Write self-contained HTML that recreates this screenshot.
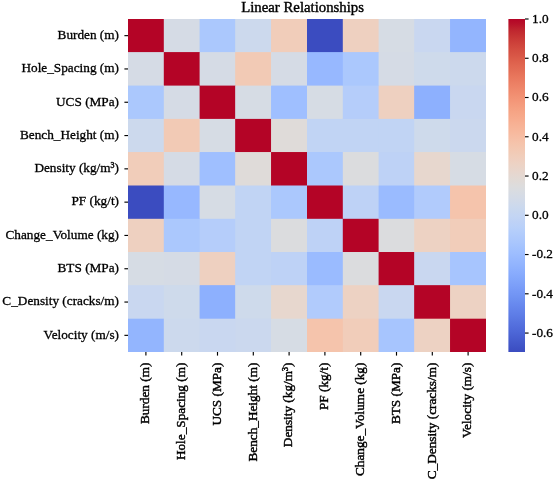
<!DOCTYPE html>
<html><head><meta charset="utf-8"><title>Linear Relationships</title>
<style>html,body{margin:0;padding:0;background:#fff}svg{display:block}text{font-family:"Liberation Serif","Times New Roman",serif;fill:#000;stroke:#000;stroke-width:0.3px}</style></head><body>
<svg width="554" height="480" viewBox="0 0 554 480">
<rect width="554" height="480" fill="#fff"/>
<defs><linearGradient id="cb" x1="0" y1="0" x2="0" y2="1">
<stop offset="0.0000" stop-color="#b40426"/>
<stop offset="0.0156" stop-color="#b8122a"/>
<stop offset="0.0312" stop-color="#be242e"/>
<stop offset="0.0469" stop-color="#c43032"/>
<stop offset="0.0625" stop-color="#ca3b37"/>
<stop offset="0.0781" stop-color="#cf453c"/>
<stop offset="0.0938" stop-color="#d44e41"/>
<stop offset="0.1094" stop-color="#d85646"/>
<stop offset="0.1250" stop-color="#dd5f4b"/>
<stop offset="0.1406" stop-color="#e16751"/>
<stop offset="0.1562" stop-color="#e46e56"/>
<stop offset="0.1719" stop-color="#e8765c"/>
<stop offset="0.1875" stop-color="#eb7d62"/>
<stop offset="0.2031" stop-color="#ee8468"/>
<stop offset="0.2188" stop-color="#f08b6e"/>
<stop offset="0.2344" stop-color="#f29274"/>
<stop offset="0.2500" stop-color="#f4987a"/>
<stop offset="0.2656" stop-color="#f59f80"/>
<stop offset="0.2812" stop-color="#f6a586"/>
<stop offset="0.2969" stop-color="#f7aa8c"/>
<stop offset="0.3125" stop-color="#f7b093"/>
<stop offset="0.3281" stop-color="#f7b599"/>
<stop offset="0.3438" stop-color="#f7ba9f"/>
<stop offset="0.3594" stop-color="#f6bfa6"/>
<stop offset="0.3750" stop-color="#f5c4ac"/>
<stop offset="0.3906" stop-color="#f3c8b2"/>
<stop offset="0.4062" stop-color="#f1ccb8"/>
<stop offset="0.4219" stop-color="#efcfbf"/>
<stop offset="0.4375" stop-color="#ecd3c5"/>
<stop offset="0.4531" stop-color="#e9d5cb"/>
<stop offset="0.4688" stop-color="#e5d8d1"/>
<stop offset="0.4844" stop-color="#e1dad6"/>
<stop offset="0.5000" stop-color="#dddcdc"/>
<stop offset="0.5156" stop-color="#d9dce1"/>
<stop offset="0.5312" stop-color="#d5dbe5"/>
<stop offset="0.5469" stop-color="#d1dae9"/>
<stop offset="0.5625" stop-color="#ccd9ed"/>
<stop offset="0.5781" stop-color="#c7d7f0"/>
<stop offset="0.5938" stop-color="#c3d5f4"/>
<stop offset="0.6094" stop-color="#bed2f6"/>
<stop offset="0.6250" stop-color="#b9d0f9"/>
<stop offset="0.6406" stop-color="#b3cdfb"/>
<stop offset="0.6562" stop-color="#aec9fc"/>
<stop offset="0.6719" stop-color="#a9c6fd"/>
<stop offset="0.6875" stop-color="#a3c2fe"/>
<stop offset="0.7031" stop-color="#9ebeff"/>
<stop offset="0.7188" stop-color="#98b9ff"/>
<stop offset="0.7344" stop-color="#93b5fe"/>
<stop offset="0.7500" stop-color="#8db0fe"/>
<stop offset="0.7656" stop-color="#88abfd"/>
<stop offset="0.7812" stop-color="#82a6fb"/>
<stop offset="0.7969" stop-color="#7da0f9"/>
<stop offset="0.8125" stop-color="#779af7"/>
<stop offset="0.8281" stop-color="#7295f4"/>
<stop offset="0.8438" stop-color="#6c8ff1"/>
<stop offset="0.8594" stop-color="#6788ee"/>
<stop offset="0.8750" stop-color="#6282ea"/>
<stop offset="0.8906" stop-color="#5d7ce6"/>
<stop offset="0.9062" stop-color="#5875e1"/>
<stop offset="0.9219" stop-color="#536edd"/>
<stop offset="0.9375" stop-color="#4e68d8"/>
<stop offset="0.9531" stop-color="#4961d2"/>
<stop offset="0.9688" stop-color="#445acc"/>
<stop offset="0.9844" stop-color="#3f53c6"/>
<stop offset="1.0000" stop-color="#3b4cc0"/>
</linearGradient></defs>
<g shape-rendering="crispEdges">
<rect x="128.00" y="19.00" width="35.80" height="33.30" fill="#b40426"/>
<rect x="163.80" y="19.00" width="35.80" height="33.30" fill="#d5dbe5"/>
<rect x="199.60" y="19.00" width="35.80" height="33.30" fill="#abc8fd"/>
<rect x="235.40" y="19.00" width="35.80" height="33.30" fill="#ccd9ed"/>
<rect x="271.20" y="19.00" width="35.80" height="33.30" fill="#f1cdba"/>
<rect x="307.00" y="19.00" width="35.80" height="33.30" fill="#3b4cc0"/>
<rect x="342.80" y="19.00" width="35.80" height="33.30" fill="#eed0c0"/>
<rect x="378.60" y="19.00" width="35.80" height="33.30" fill="#d6dce4"/>
<rect x="414.40" y="19.00" width="35.80" height="33.30" fill="#c9d7f0"/>
<rect x="450.20" y="19.00" width="35.80" height="33.30" fill="#93b5fe"/>
<rect x="128.00" y="52.30" width="35.80" height="33.30" fill="#d5dbe5"/>
<rect x="163.80" y="52.30" width="35.80" height="33.30" fill="#b40426"/>
<rect x="199.60" y="52.30" width="35.80" height="33.30" fill="#d5dbe5"/>
<rect x="235.40" y="52.30" width="35.80" height="33.30" fill="#f2cab5"/>
<rect x="271.20" y="52.30" width="35.80" height="33.30" fill="#d5dbe5"/>
<rect x="307.00" y="52.30" width="35.80" height="33.30" fill="#97b8ff"/>
<rect x="342.80" y="52.30" width="35.80" height="33.30" fill="#abc8fd"/>
<rect x="378.60" y="52.30" width="35.80" height="33.30" fill="#d5dbe5"/>
<rect x="414.40" y="52.30" width="35.80" height="33.30" fill="#cedaeb"/>
<rect x="450.20" y="52.30" width="35.80" height="33.30" fill="#ccd9ed"/>
<rect x="128.00" y="85.60" width="35.80" height="33.30" fill="#abc8fd"/>
<rect x="163.80" y="85.60" width="35.80" height="33.30" fill="#d5dbe5"/>
<rect x="199.60" y="85.60" width="35.80" height="33.30" fill="#b40426"/>
<rect x="235.40" y="85.60" width="35.80" height="33.30" fill="#d6dce4"/>
<rect x="271.20" y="85.60" width="35.80" height="33.30" fill="#9fbfff"/>
<rect x="307.00" y="85.60" width="35.80" height="33.30" fill="#d6dce4"/>
<rect x="342.80" y="85.60" width="35.80" height="33.30" fill="#b5cdfa"/>
<rect x="378.60" y="85.60" width="35.80" height="33.30" fill="#eed0c0"/>
<rect x="414.40" y="85.60" width="35.80" height="33.30" fill="#8db0fe"/>
<rect x="450.20" y="85.60" width="35.80" height="33.30" fill="#c9d7f0"/>
<rect x="128.00" y="118.90" width="35.80" height="33.30" fill="#ccd9ed"/>
<rect x="163.80" y="118.90" width="35.80" height="33.30" fill="#f2cab5"/>
<rect x="199.60" y="118.90" width="35.80" height="33.30" fill="#d6dce4"/>
<rect x="235.40" y="118.90" width="35.80" height="33.30" fill="#b40426"/>
<rect x="271.20" y="118.90" width="35.80" height="33.30" fill="#dfdbd9"/>
<rect x="307.00" y="118.90" width="35.80" height="33.30" fill="#c1d4f4"/>
<rect x="342.80" y="118.90" width="35.80" height="33.30" fill="#c1d4f4"/>
<rect x="378.60" y="118.90" width="35.80" height="33.30" fill="#c1d4f4"/>
<rect x="414.40" y="118.90" width="35.80" height="33.30" fill="#cedaeb"/>
<rect x="450.20" y="118.90" width="35.80" height="33.30" fill="#cbd8ee"/>
<rect x="128.00" y="152.20" width="35.80" height="33.30" fill="#f1cdba"/>
<rect x="163.80" y="152.20" width="35.80" height="33.30" fill="#d5dbe5"/>
<rect x="199.60" y="152.20" width="35.80" height="33.30" fill="#9fbfff"/>
<rect x="235.40" y="152.20" width="35.80" height="33.30" fill="#dfdbd9"/>
<rect x="271.20" y="152.20" width="35.80" height="33.30" fill="#b40426"/>
<rect x="307.00" y="152.20" width="35.80" height="33.30" fill="#abc8fd"/>
<rect x="342.80" y="152.20" width="35.80" height="33.30" fill="#dbdcde"/>
<rect x="378.60" y="152.20" width="35.80" height="33.30" fill="#bed2f6"/>
<rect x="414.40" y="152.20" width="35.80" height="33.30" fill="#e7d7ce"/>
<rect x="450.20" y="152.20" width="35.80" height="33.30" fill="#d6dce4"/>
<rect x="128.00" y="185.50" width="35.80" height="33.30" fill="#3b4cc0"/>
<rect x="163.80" y="185.50" width="35.80" height="33.30" fill="#97b8ff"/>
<rect x="199.60" y="185.50" width="35.80" height="33.30" fill="#d6dce4"/>
<rect x="235.40" y="185.50" width="35.80" height="33.30" fill="#c1d4f4"/>
<rect x="271.20" y="185.50" width="35.80" height="33.30" fill="#abc8fd"/>
<rect x="307.00" y="185.50" width="35.80" height="33.30" fill="#b40426"/>
<rect x="342.80" y="185.50" width="35.80" height="33.30" fill="#bed2f6"/>
<rect x="378.60" y="185.50" width="35.80" height="33.30" fill="#9abbff"/>
<rect x="414.40" y="185.50" width="35.80" height="33.30" fill="#b1cbfc"/>
<rect x="450.20" y="185.50" width="35.80" height="33.30" fill="#f5c4ac"/>
<rect x="128.00" y="218.80" width="35.80" height="33.30" fill="#eed0c0"/>
<rect x="163.80" y="218.80" width="35.80" height="33.30" fill="#abc8fd"/>
<rect x="199.60" y="218.80" width="35.80" height="33.30" fill="#b5cdfa"/>
<rect x="235.40" y="218.80" width="35.80" height="33.30" fill="#c1d4f4"/>
<rect x="271.20" y="218.80" width="35.80" height="33.30" fill="#dbdcde"/>
<rect x="307.00" y="218.80" width="35.80" height="33.30" fill="#bed2f6"/>
<rect x="342.80" y="218.80" width="35.80" height="33.30" fill="#b40426"/>
<rect x="378.60" y="218.80" width="35.80" height="33.30" fill="#dbdcde"/>
<rect x="414.40" y="218.80" width="35.80" height="33.30" fill="#edd2c3"/>
<rect x="450.20" y="218.80" width="35.80" height="33.30" fill="#f1cdba"/>
<rect x="128.00" y="252.10" width="35.80" height="33.30" fill="#d6dce4"/>
<rect x="163.80" y="252.10" width="35.80" height="33.30" fill="#d5dbe5"/>
<rect x="199.60" y="252.10" width="35.80" height="33.30" fill="#eed0c0"/>
<rect x="235.40" y="252.10" width="35.80" height="33.30" fill="#c1d4f4"/>
<rect x="271.20" y="252.10" width="35.80" height="33.30" fill="#bed2f6"/>
<rect x="307.00" y="252.10" width="35.80" height="33.30" fill="#9abbff"/>
<rect x="342.80" y="252.10" width="35.80" height="33.30" fill="#dbdcde"/>
<rect x="378.60" y="252.10" width="35.80" height="33.30" fill="#b40426"/>
<rect x="414.40" y="252.10" width="35.80" height="33.30" fill="#c9d7f0"/>
<rect x="450.20" y="252.10" width="35.80" height="33.30" fill="#a7c5fe"/>
<rect x="128.00" y="285.40" width="35.80" height="33.30" fill="#c9d7f0"/>
<rect x="163.80" y="285.40" width="35.80" height="33.30" fill="#cedaeb"/>
<rect x="199.60" y="285.40" width="35.80" height="33.30" fill="#8db0fe"/>
<rect x="235.40" y="285.40" width="35.80" height="33.30" fill="#cedaeb"/>
<rect x="271.20" y="285.40" width="35.80" height="33.30" fill="#e7d7ce"/>
<rect x="307.00" y="285.40" width="35.80" height="33.30" fill="#b1cbfc"/>
<rect x="342.80" y="285.40" width="35.80" height="33.30" fill="#edd2c3"/>
<rect x="378.60" y="285.40" width="35.80" height="33.30" fill="#c9d7f0"/>
<rect x="414.40" y="285.40" width="35.80" height="33.30" fill="#b40426"/>
<rect x="450.20" y="285.40" width="35.80" height="33.30" fill="#edd2c3"/>
<rect x="128.00" y="318.70" width="35.80" height="33.30" fill="#93b5fe"/>
<rect x="163.80" y="318.70" width="35.80" height="33.30" fill="#ccd9ed"/>
<rect x="199.60" y="318.70" width="35.80" height="33.30" fill="#c9d7f0"/>
<rect x="235.40" y="318.70" width="35.80" height="33.30" fill="#cbd8ee"/>
<rect x="271.20" y="318.70" width="35.80" height="33.30" fill="#d6dce4"/>
<rect x="307.00" y="318.70" width="35.80" height="33.30" fill="#f5c4ac"/>
<rect x="342.80" y="318.70" width="35.80" height="33.30" fill="#f1cdba"/>
<rect x="378.60" y="318.70" width="35.80" height="33.30" fill="#a7c5fe"/>
<rect x="414.40" y="318.70" width="35.80" height="33.30" fill="#edd2c3"/>
<rect x="450.20" y="318.70" width="35.80" height="33.30" fill="#b40426"/>
</g>
<g>
<rect x="128.00" y="19.00" width="35.80" height="33.30" fill="#b40426"/>
<rect x="163.80" y="19.00" width="35.80" height="33.30" fill="#d5dbe5"/>
<rect x="199.60" y="19.00" width="35.80" height="33.30" fill="#abc8fd"/>
<rect x="235.40" y="19.00" width="35.80" height="33.30" fill="#ccd9ed"/>
<rect x="271.20" y="19.00" width="35.80" height="33.30" fill="#f1cdba"/>
<rect x="307.00" y="19.00" width="35.80" height="33.30" fill="#3b4cc0"/>
<rect x="342.80" y="19.00" width="35.80" height="33.30" fill="#eed0c0"/>
<rect x="378.60" y="19.00" width="35.80" height="33.30" fill="#d6dce4"/>
<rect x="414.40" y="19.00" width="35.80" height="33.30" fill="#c9d7f0"/>
<rect x="450.20" y="19.00" width="35.80" height="33.30" fill="#93b5fe"/>
<rect x="128.00" y="52.30" width="35.80" height="33.30" fill="#d5dbe5"/>
<rect x="163.80" y="52.30" width="35.80" height="33.30" fill="#b40426"/>
<rect x="199.60" y="52.30" width="35.80" height="33.30" fill="#d5dbe5"/>
<rect x="235.40" y="52.30" width="35.80" height="33.30" fill="#f2cab5"/>
<rect x="271.20" y="52.30" width="35.80" height="33.30" fill="#d5dbe5"/>
<rect x="307.00" y="52.30" width="35.80" height="33.30" fill="#97b8ff"/>
<rect x="342.80" y="52.30" width="35.80" height="33.30" fill="#abc8fd"/>
<rect x="378.60" y="52.30" width="35.80" height="33.30" fill="#d5dbe5"/>
<rect x="414.40" y="52.30" width="35.80" height="33.30" fill="#cedaeb"/>
<rect x="450.20" y="52.30" width="35.80" height="33.30" fill="#ccd9ed"/>
<rect x="128.00" y="85.60" width="35.80" height="33.30" fill="#abc8fd"/>
<rect x="163.80" y="85.60" width="35.80" height="33.30" fill="#d5dbe5"/>
<rect x="199.60" y="85.60" width="35.80" height="33.30" fill="#b40426"/>
<rect x="235.40" y="85.60" width="35.80" height="33.30" fill="#d6dce4"/>
<rect x="271.20" y="85.60" width="35.80" height="33.30" fill="#9fbfff"/>
<rect x="307.00" y="85.60" width="35.80" height="33.30" fill="#d6dce4"/>
<rect x="342.80" y="85.60" width="35.80" height="33.30" fill="#b5cdfa"/>
<rect x="378.60" y="85.60" width="35.80" height="33.30" fill="#eed0c0"/>
<rect x="414.40" y="85.60" width="35.80" height="33.30" fill="#8db0fe"/>
<rect x="450.20" y="85.60" width="35.80" height="33.30" fill="#c9d7f0"/>
<rect x="128.00" y="118.90" width="35.80" height="33.30" fill="#ccd9ed"/>
<rect x="163.80" y="118.90" width="35.80" height="33.30" fill="#f2cab5"/>
<rect x="199.60" y="118.90" width="35.80" height="33.30" fill="#d6dce4"/>
<rect x="235.40" y="118.90" width="35.80" height="33.30" fill="#b40426"/>
<rect x="271.20" y="118.90" width="35.80" height="33.30" fill="#dfdbd9"/>
<rect x="307.00" y="118.90" width="35.80" height="33.30" fill="#c1d4f4"/>
<rect x="342.80" y="118.90" width="35.80" height="33.30" fill="#c1d4f4"/>
<rect x="378.60" y="118.90" width="35.80" height="33.30" fill="#c1d4f4"/>
<rect x="414.40" y="118.90" width="35.80" height="33.30" fill="#cedaeb"/>
<rect x="450.20" y="118.90" width="35.80" height="33.30" fill="#cbd8ee"/>
<rect x="128.00" y="152.20" width="35.80" height="33.30" fill="#f1cdba"/>
<rect x="163.80" y="152.20" width="35.80" height="33.30" fill="#d5dbe5"/>
<rect x="199.60" y="152.20" width="35.80" height="33.30" fill="#9fbfff"/>
<rect x="235.40" y="152.20" width="35.80" height="33.30" fill="#dfdbd9"/>
<rect x="271.20" y="152.20" width="35.80" height="33.30" fill="#b40426"/>
<rect x="307.00" y="152.20" width="35.80" height="33.30" fill="#abc8fd"/>
<rect x="342.80" y="152.20" width="35.80" height="33.30" fill="#dbdcde"/>
<rect x="378.60" y="152.20" width="35.80" height="33.30" fill="#bed2f6"/>
<rect x="414.40" y="152.20" width="35.80" height="33.30" fill="#e7d7ce"/>
<rect x="450.20" y="152.20" width="35.80" height="33.30" fill="#d6dce4"/>
<rect x="128.00" y="185.50" width="35.80" height="33.30" fill="#3b4cc0"/>
<rect x="163.80" y="185.50" width="35.80" height="33.30" fill="#97b8ff"/>
<rect x="199.60" y="185.50" width="35.80" height="33.30" fill="#d6dce4"/>
<rect x="235.40" y="185.50" width="35.80" height="33.30" fill="#c1d4f4"/>
<rect x="271.20" y="185.50" width="35.80" height="33.30" fill="#abc8fd"/>
<rect x="307.00" y="185.50" width="35.80" height="33.30" fill="#b40426"/>
<rect x="342.80" y="185.50" width="35.80" height="33.30" fill="#bed2f6"/>
<rect x="378.60" y="185.50" width="35.80" height="33.30" fill="#9abbff"/>
<rect x="414.40" y="185.50" width="35.80" height="33.30" fill="#b1cbfc"/>
<rect x="450.20" y="185.50" width="35.80" height="33.30" fill="#f5c4ac"/>
<rect x="128.00" y="218.80" width="35.80" height="33.30" fill="#eed0c0"/>
<rect x="163.80" y="218.80" width="35.80" height="33.30" fill="#abc8fd"/>
<rect x="199.60" y="218.80" width="35.80" height="33.30" fill="#b5cdfa"/>
<rect x="235.40" y="218.80" width="35.80" height="33.30" fill="#c1d4f4"/>
<rect x="271.20" y="218.80" width="35.80" height="33.30" fill="#dbdcde"/>
<rect x="307.00" y="218.80" width="35.80" height="33.30" fill="#bed2f6"/>
<rect x="342.80" y="218.80" width="35.80" height="33.30" fill="#b40426"/>
<rect x="378.60" y="218.80" width="35.80" height="33.30" fill="#dbdcde"/>
<rect x="414.40" y="218.80" width="35.80" height="33.30" fill="#edd2c3"/>
<rect x="450.20" y="218.80" width="35.80" height="33.30" fill="#f1cdba"/>
<rect x="128.00" y="252.10" width="35.80" height="33.30" fill="#d6dce4"/>
<rect x="163.80" y="252.10" width="35.80" height="33.30" fill="#d5dbe5"/>
<rect x="199.60" y="252.10" width="35.80" height="33.30" fill="#eed0c0"/>
<rect x="235.40" y="252.10" width="35.80" height="33.30" fill="#c1d4f4"/>
<rect x="271.20" y="252.10" width="35.80" height="33.30" fill="#bed2f6"/>
<rect x="307.00" y="252.10" width="35.80" height="33.30" fill="#9abbff"/>
<rect x="342.80" y="252.10" width="35.80" height="33.30" fill="#dbdcde"/>
<rect x="378.60" y="252.10" width="35.80" height="33.30" fill="#b40426"/>
<rect x="414.40" y="252.10" width="35.80" height="33.30" fill="#c9d7f0"/>
<rect x="450.20" y="252.10" width="35.80" height="33.30" fill="#a7c5fe"/>
<rect x="128.00" y="285.40" width="35.80" height="33.30" fill="#c9d7f0"/>
<rect x="163.80" y="285.40" width="35.80" height="33.30" fill="#cedaeb"/>
<rect x="199.60" y="285.40" width="35.80" height="33.30" fill="#8db0fe"/>
<rect x="235.40" y="285.40" width="35.80" height="33.30" fill="#cedaeb"/>
<rect x="271.20" y="285.40" width="35.80" height="33.30" fill="#e7d7ce"/>
<rect x="307.00" y="285.40" width="35.80" height="33.30" fill="#b1cbfc"/>
<rect x="342.80" y="285.40" width="35.80" height="33.30" fill="#edd2c3"/>
<rect x="378.60" y="285.40" width="35.80" height="33.30" fill="#c9d7f0"/>
<rect x="414.40" y="285.40" width="35.80" height="33.30" fill="#b40426"/>
<rect x="450.20" y="285.40" width="35.80" height="33.30" fill="#edd2c3"/>
<rect x="128.00" y="318.70" width="35.80" height="33.30" fill="#93b5fe"/>
<rect x="163.80" y="318.70" width="35.80" height="33.30" fill="#ccd9ed"/>
<rect x="199.60" y="318.70" width="35.80" height="33.30" fill="#c9d7f0"/>
<rect x="235.40" y="318.70" width="35.80" height="33.30" fill="#cbd8ee"/>
<rect x="271.20" y="318.70" width="35.80" height="33.30" fill="#d6dce4"/>
<rect x="307.00" y="318.70" width="35.80" height="33.30" fill="#f5c4ac"/>
<rect x="342.80" y="318.70" width="35.80" height="33.30" fill="#f1cdba"/>
<rect x="378.60" y="318.70" width="35.80" height="33.30" fill="#a7c5fe"/>
<rect x="414.40" y="318.70" width="35.80" height="33.30" fill="#edd2c3"/>
<rect x="450.20" y="318.70" width="35.80" height="33.30" fill="#b40426"/>
</g>
<rect x="508.40" y="19.00" width="16.60" height="333.00" fill="url(#cb)"/>
<g stroke="#000" stroke-width="1.15">
<line x1="124.40" y1="35.65" x2="128.00" y2="35.65"/>
<line x1="124.40" y1="68.95" x2="128.00" y2="68.95"/>
<line x1="124.40" y1="102.25" x2="128.00" y2="102.25"/>
<line x1="124.40" y1="135.55" x2="128.00" y2="135.55"/>
<line x1="124.40" y1="168.85" x2="128.00" y2="168.85"/>
<line x1="124.40" y1="202.15" x2="128.00" y2="202.15"/>
<line x1="124.40" y1="235.45" x2="128.00" y2="235.45"/>
<line x1="124.40" y1="268.75" x2="128.00" y2="268.75"/>
<line x1="124.40" y1="302.05" x2="128.00" y2="302.05"/>
<line x1="124.40" y1="335.35" x2="128.00" y2="335.35"/>
<line x1="145.90" y1="352.00" x2="145.90" y2="355.60"/>
<line x1="181.70" y1="352.00" x2="181.70" y2="355.60"/>
<line x1="217.50" y1="352.00" x2="217.50" y2="355.60"/>
<line x1="253.30" y1="352.00" x2="253.30" y2="355.60"/>
<line x1="289.10" y1="352.00" x2="289.10" y2="355.60"/>
<line x1="324.90" y1="352.00" x2="324.90" y2="355.60"/>
<line x1="360.70" y1="352.00" x2="360.70" y2="355.60"/>
<line x1="396.50" y1="352.00" x2="396.50" y2="355.60"/>
<line x1="432.30" y1="352.00" x2="432.30" y2="355.60"/>
<line x1="468.10" y1="352.00" x2="468.10" y2="355.60"/>
<line x1="525.00" y1="19.00" x2="528.60" y2="19.00"/>
<line x1="525.00" y1="58.26" x2="528.60" y2="58.26"/>
<line x1="525.00" y1="97.51" x2="528.60" y2="97.51"/>
<line x1="525.00" y1="136.77" x2="528.60" y2="136.77"/>
<line x1="525.00" y1="176.03" x2="528.60" y2="176.03"/>
<line x1="525.00" y1="215.29" x2="528.60" y2="215.29"/>
<line x1="525.00" y1="254.54" x2="528.60" y2="254.54"/>
<line x1="525.00" y1="293.80" x2="528.60" y2="293.80"/>
<line x1="525.00" y1="333.06" x2="528.60" y2="333.06"/>
</g>
<text x="119.00" y="38.95" font-size="13.25" text-anchor="end">Burden (m)</text>
<text x="119.00" y="72.25" font-size="13.25" text-anchor="end">Hole_Spacing (m)</text>
<text x="119.00" y="105.55" font-size="13.25" text-anchor="end">UCS (MPa)</text>
<text x="119.00" y="138.85" font-size="13.25" text-anchor="end">Bench_Height (m)</text>
<text x="119.00" y="172.15" font-size="13.25" text-anchor="end">Density (kg/m³)</text>
<text x="119.00" y="205.45" font-size="13.25" text-anchor="end">PF (kg/t)</text>
<text x="119.00" y="238.75" font-size="13.25" text-anchor="end">Change_Volume (kg)</text>
<text x="119.00" y="272.05" font-size="13.25" text-anchor="end">BTS (MPa)</text>
<text x="119.00" y="305.35" font-size="13.25" text-anchor="end">C_Density (cracks/m)</text>
<text x="119.00" y="338.65" font-size="13.25" text-anchor="end">Velocity (m/s)</text>
<text transform="translate(149.20,362.60) rotate(-90)" font-size="13.25" text-anchor="end" style="stroke-width:0.42px">Burden (m)</text>
<text transform="translate(185.00,362.60) rotate(-90)" font-size="13.25" text-anchor="end" style="stroke-width:0.42px">Hole_Spacing (m)</text>
<text transform="translate(220.80,362.60) rotate(-90)" font-size="13.25" text-anchor="end" style="stroke-width:0.42px">UCS (MPa)</text>
<text transform="translate(256.60,362.60) rotate(-90)" font-size="13.25" text-anchor="end" style="stroke-width:0.42px">Bench_Height (m)</text>
<text transform="translate(292.40,362.60) rotate(-90)" font-size="13.25" text-anchor="end" style="stroke-width:0.42px">Density (kg/m³)</text>
<text transform="translate(328.20,362.60) rotate(-90)" font-size="13.25" text-anchor="end" style="stroke-width:0.42px">PF (kg/t)</text>
<text transform="translate(364.00,362.60) rotate(-90)" font-size="13.25" text-anchor="end" style="stroke-width:0.42px">Change_Volume (kg)</text>
<text transform="translate(399.80,362.60) rotate(-90)" font-size="13.25" text-anchor="end" style="stroke-width:0.42px">BTS (MPa)</text>
<text transform="translate(435.60,362.60) rotate(-90)" font-size="13.25" text-anchor="end" style="stroke-width:0.42px">C_Density (cracks/m)</text>
<text transform="translate(471.40,362.60) rotate(-90)" font-size="13.25" text-anchor="end" style="stroke-width:0.42px">Velocity (m/s)</text>
<text x="532.00" y="22.90" font-size="13.25">1.0</text>
<text x="532.00" y="62.16" font-size="13.25">0.8</text>
<text x="532.00" y="101.41" font-size="13.25">0.6</text>
<text x="532.00" y="140.67" font-size="13.25">0.4</text>
<text x="532.00" y="179.93" font-size="13.25">0.2</text>
<text x="532.00" y="219.19" font-size="13.25">0.0</text>
<text x="532.00" y="258.44" font-size="13.25">-0.2</text>
<text x="532.00" y="297.70" font-size="13.25">-0.4</text>
<text x="532.00" y="336.96" font-size="13.25">-0.6</text>
<text x="302.60" y="12.40" font-size="14.80" text-anchor="middle" style="stroke-width:0.4px">Linear Relationships</text>
</svg></body></html>
